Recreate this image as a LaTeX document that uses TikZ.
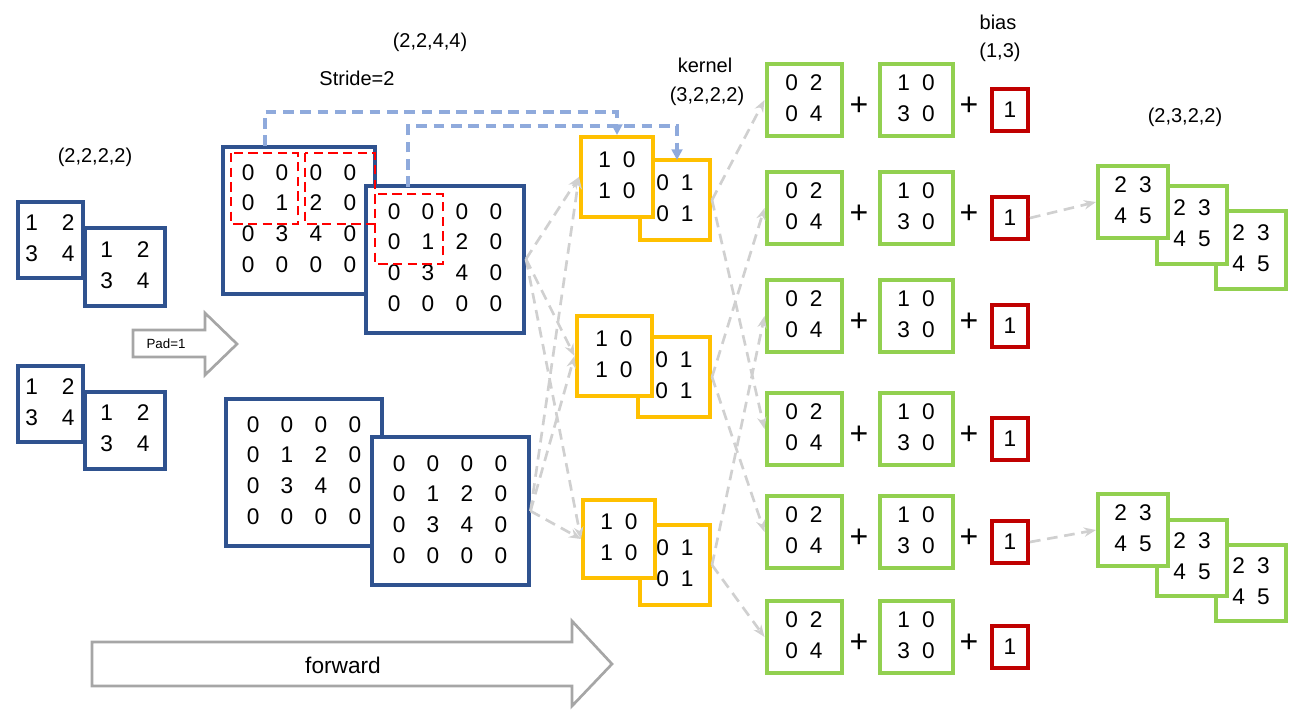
\documentclass[tikz,border=0pt]{standalone}
\usepackage{fontspec}
\setmainfont{Liberation Sans}
\usetikzlibrary{arrows.meta}
\definecolor{cblue}{HTML}{2F528F}
\definecolor{cyel}{HTML}{FFC000}
\definecolor{cgreen}{HTML}{92D050}
\definecolor{cred}{HTML}{C00000}
\definecolor{lblue}{HTML}{8FAADC}
\definecolor{lgray}{HTML}{D0D0D0}
\definecolor{agray}{HTML}{A6A6A6}
\newcommand\mybox[7]{\node[#2, minimum width=#5*0.75pt, minimum height=#6*0.75pt] (#1) at (#3,#4) {#7};}
\newcommand\mmat[2]{{\setlength\tabcolsep{#1}\begin{tabular}{@{}cccc@{}}#2\end{tabular}}}
\newcommand\tmat[2]{{\setlength\tabcolsep{#1}\begin{tabular}{@{}cc@{}}#2\end{tabular}}}
\begin{document}
\begin{tikzpicture}[x=0.75pt,y=-0.75pt,
  box/.style={draw, line width=3pt, fill=white, inner sep=0pt, font=\fontsize{17}{23}\selectfont},
  bb/.style={box, draw=cblue},
  yb/.style={box, draw=cyel},
  gb/.style={box, draw=cgreen},
  rb/.style={box, draw=cred},
  lbl/.style={font=\fontsize{15}{18}\selectfont},
  rdash/.style={draw=red, line width=2.2pt, dash pattern=on 7pt off 4pt},
  bdash/.style={draw=lblue, line width=2.5pt, dash pattern=on 8pt off 5pt, -{Triangle[length=8pt,width=8pt]}},
  gdash/.style={draw=lgray, line width=2pt, dash pattern=on 8pt off 5pt, -{Stealth[length=9pt,width=7pt]}},
  plus/.style={font=\fontsize{24}{24}\selectfont}]
\useasboundingbox (0,0) rectangle (1305,724);
% labels
\node[lbl] (t1) at (95,157) {(2,2,2,2)};
\node[lbl] (t2) at (430,42) {(2,2,4,4)};
\node[lbl] (t3) at (357,78) {Stride=2};
\node[lbl] (t4) at (705,65) {kernel};
\node[lbl] (t5) at (707,96) {(3,2,2,2)};
\node[lbl] (t6) at (998,22) {bias};
\node[lbl] (t7) at (1000,52) {(1,3)};
\node[lbl] (t8) at (1185,117) {(2,3,2,2)};
% input
\mybox{a2}{bb}{125}{267}{80}{78}{\tmat{9pt}{1&2\\3&4}}
\mybox{a1}{bb}{50}{240}{65}{76}{\tmat{9pt}{1&2\\3&4}}
\mybox{b2}{bb}{125}{430}{80}{77}{\tmat{9pt}{1&2\\3&4}}
\mybox{b1}{bb}{50}{404}{65}{76}{\tmat{9pt}{1&2\\3&4}}
% pad arrow
\draw[agray, line width=2pt, fill=white] (133,330) -- (205,330) -- (205,313) -- (237,344) -- (205,375) -- (205,357) -- (133,357) -- cycle;
\node[font=\fontsize{10}{12}\selectfont] (padl) at (166,344) {Pad=1};
% padded
\mybox{p1}{bb}{299}{220}{152}{147}{\mmat{8pt}{0&0&0&0\\0&1&2&0\\0&3&4&0\\0&0&0&0}}
\mybox{p2}{bb}{445}{259}{158}{147}{\mmat{8pt}{0&0&0&0\\0&1&2&0\\0&3&4&0\\0&0&0&0}}
\mybox{q1}{bb}{304}{472}{156}{147}{\mmat{8pt}{0&0&0&0\\0&1&2&0\\0&3&4&0\\0&0&0&0}}
\mybox{q2}{bb}{450}{511}{157}{148}{\mmat{8pt}{0&0&0&0\\0&1&2&0\\0&3&4&0\\0&0&0&0}}
\draw[rdash] (231,153) rectangle (298,224);
\draw[rdash] (305,153) rectangle (375,224);
\draw[rdash] (375,194) rectangle (443,264);
% forward arrow
\draw[agray, line width=2pt, fill=white] (92,642) -- (572,642) -- (572,621) -- (612,664) -- (572,706) -- (572,686) -- (92,686) -- cycle;
\node[font=\fontsize{17}{20}\selectfont] (fw) at (343,665) {forward};
% kernels
\mybox{k1b}{yb}{675}{200}{70}{80}{\tmat{4.5pt}{0&1\\0&1}}
\mybox{k1}{yb}{617}{177}{72}{80}{\tmat{4.5pt}{1&0\\1&0}}
\mybox{k2b}{yb}{674}{377}{72}{80}{\tmat{4.5pt}{0&1\\0&1}}
\mybox{k2}{yb}{614}{356}{75}{80}{\tmat{4.5pt}{1&0\\1&0}}
\mybox{k3b}{yb}{675}{565}{70}{80}{\tmat{4.5pt}{0&1\\0&1}}
\mybox{k3}{yb}{619}{539}{72}{78}{\tmat{4.5pt}{1&0\\1&0}}
% stride connectors
\coordinate (s1) at (265,146);
\coordinate (s2) at (408,187);
\draw[bdash] (s1) -- (265,112) -- (617,112) -- (k1.north);
\draw[bdash] (s2) -- (408,126) -- (677,126) -- (677,160);
% green rows
\foreach \i/\y in {1/100,2/208,3/316,4/429,5/532,6/637}{
  \mybox{g\i}{gb}{804}{\y}{75}{72}{\tmat{4.5pt}{0&2\\0&4}}
  \mybox{h\i}{gb}{916}{\y}{73}{72}{\tmat{4.5pt}{1&0\\3&0}}
  \mybox{r\i}{rb}{1010}{\y+10}{36}{42}{1}
  \node[plus] (pa\i) at (859,\y+6) {+};
  \node[plus] (pb\i) at (969,\y+6) {+};
}
% outputs
\mybox{o3}{gb}{1251}{250}{70}{78}{\tmat{4.5pt}{2&3\\4&5}}
\mybox{o2}{gb}{1192}{225}{70}{78}{\tmat{4.5pt}{2&3\\4&5}}
\mybox{o1}{gb}{1133}{202}{70}{72}{\tmat{4.5pt}{2&3\\4&5}}
\mybox{u3}{gb}{1251}{583}{70}{76}{\tmat{4.5pt}{2&3\\4&5}}
\mybox{u2}{gb}{1192}{558}{70}{76}{\tmat{4.5pt}{2&3\\4&5}}
\mybox{u1}{gb}{1133}{530}{70}{72}{\tmat{4.5pt}{2&3\\4&5}}
% gray connectors
\foreach \k in {k1,k2,k3}{
  \draw[gdash] (p2.east) -- (\k.west);
  \draw[gdash] (q2.east) -- (\k.west);
}
\draw[gdash] (k1b.east) -- (g1.west);
\draw[gdash] (k1b.east) -- (g4.west);
\draw[gdash] (k2b.east) -- (g2.west);
\draw[gdash] (k2b.east) -- (g5.west);
\draw[gdash] (k3b.east) -- (g3.west);
\draw[gdash] (k3b.east) -- (g6.west);
\draw[gdash] (r2.east) -- (o1.west);
\draw[gdash] (r5.east) -- (u1.west);
\end{tikzpicture}
\end{document}
